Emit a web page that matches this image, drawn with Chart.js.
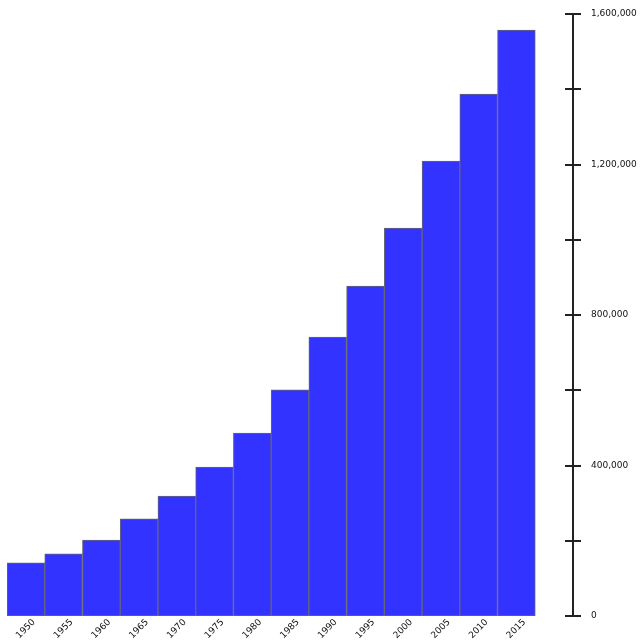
<!DOCTYPE html>
<html><head><meta charset="utf-8">
<script src="https://cdn.jsdelivr.net/npm/chart.js@4"></script>
<style>html,body{margin:0;padding:0;background:#fff}#c{display:block}</style>
</head><body>
<div style="width:640px;height:640px"><canvas id="c" width="640" height="640"></canvas></div>
<script>
const categories = ['1950','1955','1960','1965','1970','1975','1980','1985','1990','1995','2000','2005','2010','2015',''];
const values = [141000,165000,202000,258000,319000,396000,486000,601000,741000,877000,1031000,1209000,1387000,1557000,null];
const yTickLabels = {0:'0',400000:'400,000',800000:'800,000',1200000:'1,200,000',1600000:'1,600,000'};

const tickPlugin = {
  id:'ytickmarks',
  afterDraw(chart){
    const s = chart.scales.y, ctx = chart.ctx;
    ctx.save();
    ctx.strokeStyle = '#222'; ctx.lineWidth = 2;
    ctx.beginPath();
    ctx.moveTo(s.left, s.getPixelForValue(0)+1);
    ctx.lineTo(s.left, s.getPixelForValue(1600000));
    s.ticks.forEach(t=>{
      const y = Math.round(s.getPixelForValue(t.value));
      ctx.moveTo(s.left-8, y); ctx.lineTo(s.left+8, y);
    });
    ctx.stroke();
    ctx.restore();
  }
};

new Chart(document.getElementById('c'), {
  type:'bar',
  data:{labels:categories, datasets:[{data:values, backgroundColor:'#3333ff', borderColor:'#666677', borderWidth:1, borderSkipped:false, barPercentage:1, categoryPercentage:1}]},
  options:{
    responsive:false, animation:false,
    layout:{padding:{left:7,top:14,right:0,bottom:0}},
    plugins:{legend:{display:false}, tooltip:{enabled:false}},
    scales:{
      x:{grid:{display:false, drawTicks:false}, border:{display:false},
         afterFit(s){s.height=24; s.paddingLeft=0; s.paddingRight=0;},
         ticks:{autoSkip:false, minRotation:45, maxRotation:45, labelOffset:8, padding:1, color:'#111', font:{family:'DejaVu Sans', size:9}}},
      y:{position:'right', min:0, max:1600000, grid:{display:false, drawTicks:false}, border:{display:false},
         afterFit(s){s.width=67; s.paddingTop=0; s.paddingBottom=0;},
         ticks:{stepSize:200000, padding:18, color:'#111', font:{family:'DejaVu Sans', size:9},
           callback:(v)=> (v in yTickLabels) ? yTickLabels[v] : ''}}
    }
  },
  plugins:[tickPlugin]
});
</script>
</body></html>
